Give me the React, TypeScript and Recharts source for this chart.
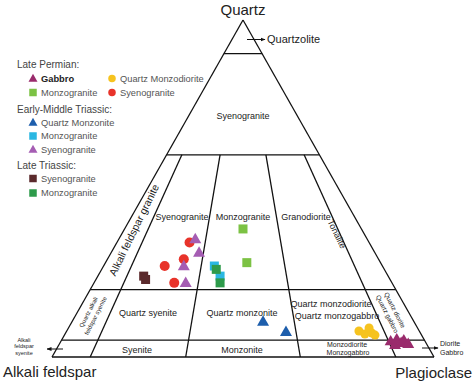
import React from 'react';
import { ScatterChart, Scatter, XAxis, YAxis, ReferenceLine } from 'recharts';

// ternary samples, each point is [Q, A, P] in %
const lpGabbro = [[4.7, 9, 86.3], [3.6, 8.4, 88], [5.3, 7.1, 87.6], [4.2, 6.5, 89.3], [5, 5.4, 89.6], [3.9, 4.8, 91.3]];
const lpQtzMonzodiorite = [[7.7, 15.8, 76.5], [6.8, 14.7, 78.5], [8.6, 12.7, 78.7], [7.1, 12.7, 80.2], [6.5, 12.2, 81.3]];
const lpMonzogranite = [[38, 31, 31], [28, 35, 37]];
const lpSyenogranite = [[34, 47, 19], [29, 51, 20], [27, 57, 16], [22, 57, 21]];
const emtQtzMonzonite = [[10.5, 39.5, 50], [7.5, 35, 57.5]];
const emtMonzogranite = [[27, 44, 29], [24, 44, 32]];
const emtSyenogranite = [[35, 45, 20], [31, 46, 23], [27, 52, 21], [22, 54, 24]];
const ltSyenogranite = [[24, 64, 12], [23, 64, 13]];
const ltMonzogranite = [[26, 44, 30], [22, 45, 33]];

// field boundaries
const qLevels = [90, 60, 20, 5];
const plagRatios = [10, 35, 65, 90]; // P/(A+P) %, from Q=60 down to Q=0

const W = 474;
const H = 383;
const FONT = '"Liberation Sans", Arial, sans-serif';

const project = ([q, a, p]: number[]) => {
  const s = q + a + p;
  return { x: ((p + q / 2) * 100) / s, y: (q * 100) / s };
};

type Kind = 'triangle' | 'circle' | 'square';

const Marker = ({ kind, cx, cy, fill, size }: { kind: Kind; cx: number; cy: number; fill: string; size: number }) => {
  if (kind === 'circle') return <circle cx={cx} cy={cy} r={size / 2} fill={fill} />;
  if (kind === 'square') return <rect x={cx - size / 2} y={cy - size / 2} width={size} height={size} fill={fill} />;
  const h = size * 0.87;
  return (
    <polygon
      points={`${cx},${cy - h * 0.6} ${cx - size / 2},${cy + h * 0.4} ${cx + size / 2},${cy + h * 0.4}`}
      fill={fill}
    />
  );
};

const series = [
  { name: 'LP Syenogranite', data: lpSyenogranite, color: '#e8332a', kind: 'circle' as Kind, size: 10 },
  { name: 'EMT Syenogranite', data: emtSyenogranite, color: '#a55db3', kind: 'triangle' as Kind, size: 12 },
  { name: 'LT Syenogranite', data: ltSyenogranite, color: '#5b2a2c', kind: 'square' as Kind, size: 9 },
  { name: 'LP Monzogranite', data: lpMonzogranite, color: '#7cc244', kind: 'square' as Kind, size: 9 },
  { name: 'EMT Monzogranite', data: emtMonzogranite, color: '#2ab7e2', kind: 'square' as Kind, size: 9 },
  { name: 'LT Monzogranite', data: ltMonzogranite, color: '#2e9b4b', kind: 'square' as Kind, size: 9 },
  { name: 'Quartz Monzonite', data: emtQtzMonzonite, color: '#1d5eac', kind: 'triangle' as Kind, size: 12 },
  { name: 'Quartz Monzodiorite', data: lpQtzMonzodiorite, color: '#f6c31f', kind: 'circle' as Kind, size: 9 },
  { name: 'Gabbro', data: lpGabbro, color: '#9a2b6c', kind: 'triangle' as Kind, size: 12 },
];

const segments: { x: number; y: number }[][] = [
  [project([100, 0, 0]), project([0, 100, 0])],
  [project([0, 100, 0]), project([0, 0, 100])],
  [project([0, 0, 100]), project([100, 0, 0])],
  ...qLevels.map((q) => [project([q, 100 - q, 0]), project([q, 0, 100 - q])]),
  ...plagRatios.map((r) => [
    project([60, 40 * (1 - r / 100), (40 * r) / 100]),
    project([0, 100 * (1 - r / 100), r]),
  ]),
];

const Rot = ({ x, y, angle, size, lines, gap }: { x: number; y: number; angle: number; size: number; lines: string[]; gap: number }) => (
  <g transform={`translate(${x},${y}) rotate(${angle})`}>
    {lines.map((t, i) => (
      <text key={t} x={0} y={(i - (lines.length - 1) / 2) * gap} dy="0.35em" textAnchor="middle" fontSize={size} fill="#222">
        {t}
      </text>
    ))}
  </g>
);

const Labels = () => {
  const mid = (x: number, y: number, t: string, size = 9) => (
    <text x={x} y={y} dy="0.35em" textAnchor="middle" fontSize={size} fill="#222">{t}</text>
  );
  return (
    <g fontFamily={FONT}>
      <defs>
        <marker id="ah" viewBox="0 0 10 10" refX="9" refY="5" markerWidth="5" markerHeight="5" orient="auto">
          <path d="M0,1 L10,5 L0,9 z" fill="#111" />
        </marker>
      </defs>
      <text x={243} y={10} dy="0.35em" textAnchor="middle" fontSize={15} fill="#222">Quartz</text>
      <line x1={247} y1={39.5} x2={265} y2={39.5} stroke="#111" strokeWidth={1} markerEnd="url(#ah)" />
      <text x={267} y={39.5} dy="0.35em" fontSize={11} fill="#222">Quartzolite</text>
      {mid(243, 116, 'Syenogranite')}
      {mid(182, 217, 'Syenogranite')}
      {mid(243, 217, 'Monzogranite')}
      {mid(306, 217, 'Granodiorite')}
      {mid(148, 313, 'Quartz syenite')}
      {mid(242, 313, 'Quartz monzonite')}
      {mid(331, 304, 'Quartz monzodiorite')}
      {mid(337, 316, 'Quartz monzogabbro')}
      {mid(137, 350, 'Syenite')}
      {mid(242, 350, 'Monzonite')}
      <text x={347} y={345} dy="0.35em" textAnchor="middle" fontSize={7} fill="#222">Monzodiorite</text>
      <text x={348} y={353} dy="0.35em" textAnchor="middle" fontSize={7} fill="#222">Monzogabbro</text>
      <Rot x={134} y={230} angle={-64} size={10.5} lines={['Alkali feldspar granite']} gap={0} />
      <Rot x={337} y={234} angle={64} size={9} lines={['Tonalite']} gap={0} />
      <Rot x={92} y={314} angle={-63} size={6} lines={['Quartz alkali', 'feldspar syenite']} gap={8} />
      <Rot x={391} y={312} angle={63} size={6.5} lines={['Quartz diorite', 'Quartz gabbro']} gap={8.5} />
      <text x={3} y={372} dy="0.35em" fontSize={15} fill="#222">Alkali feldspar</text>
      <text x={472} y={373} dy="0.35em" textAnchor="end" fontSize={15} fill="#222">Plagioclase</text>
      {['Alkali', 'feldspar', 'syenite'].map((t, i) => (
        <text key={t} x={24} y={340 + i * 6.5} dy="0.35em" textAnchor="middle" fontSize={5.5} fill="#222">{t}</text>
      ))}
      <line x1={63} y1={349} x2={47} y2={349} stroke="#111" strokeWidth={1} markerEnd="url(#ah)" />
      <line x1={422} y1={348} x2={438} y2={348} stroke="#111" strokeWidth={1} markerEnd="url(#ah)" />
      <text x={440} y={344} dy="0.35em" fontSize={7} fill="#222">Diorite</text>
      <text x={440} y={353} dy="0.35em" fontSize={7} fill="#222">Gabbro</text>
    </g>
  );
};

const legendRows: { x: number; y: number; kind: Kind; color: string; label: string; bold?: boolean }[] = [
  { x: 33, y: 78.5, kind: 'triangle', color: '#9a2b6c', label: 'Gabbro', bold: true },
  { x: 112, y: 78.5, kind: 'circle', color: '#f6c31f', label: 'Quartz Monzodiorite' },
  { x: 33, y: 92.5, kind: 'square', color: '#7cc244', label: 'Monzogranite' },
  { x: 112, y: 92.5, kind: 'circle', color: '#e8332a', label: 'Syenogranite' },
  { x: 33, y: 122.5, kind: 'triangle', color: '#1d5eac', label: 'Quartz Monzonite' },
  { x: 33, y: 136, kind: 'square', color: '#2ab7e2', label: 'Monzogranite' },
  { x: 33, y: 149.5, kind: 'triangle', color: '#a55db3', label: 'Syenogranite' },
  { x: 33, y: 178.5, kind: 'square', color: '#5b2a2c', label: 'Syenogranite' },
  { x: 33, y: 193, kind: 'square', color: '#2e9b4b', label: 'Monzogranite' },
];

const Legend = () => (
  <g fontFamily={FONT}>
    <text x={17} y={64} dy="0.35em" fontSize={10} fill="#444">Late Permian:</text>
    <text x={17} y={109} dy="0.35em" fontSize={10} fill="#444">Early-Middle Triassic:</text>
    <text x={17} y={165} dy="0.35em" fontSize={10} fill="#444">Late Triassic:</text>
    {legendRows.map((r, i) => (
      <g key={i}>
        <Marker kind={r.kind} cx={r.x} cy={r.y} fill={r.color} size={r.kind === 'triangle' ? 9 : 7.5} />
        <text x={r.x + 8} y={r.y} dy="0.35em" fontSize={9.3} fill={r.bold ? '#222' : '#555'} fontWeight={r.bold ? 'bold' : 'normal'}>
          {r.label}
        </text>
      </g>
    ))}
  </g>
);

export default function App() {
  return (
    <div style={{ position: 'absolute', left: 0, top: 0, width: W, height: H, background: '#fff' }}>
      <ScatterChart width={W} height={H} margin={{ top: 20, right: 40, bottom: 26, left: 52 }}>
        <XAxis type="number" dataKey="x" domain={[0, 100]} hide />
        <YAxis type="number" dataKey="y" domain={[0, 100]} hide />
        {segments.map((s, i) => (
          <ReferenceLine key={i} segment={s} stroke="#111" strokeWidth={1.3} ifOverflow="visible" />
        ))}
        {series.map((s) => (
          <Scatter
            key={s.name}
            name={s.name}
            data={s.data.map(project)}
            isAnimationActive={false}
            shape={(p: any) => <Marker kind={s.kind} cx={p.cx} cy={p.cy} fill={s.color} size={s.size} />}
          />
        ))}
      </ScatterChart>
      <svg width={W} height={H} style={{ position: 'absolute', left: 0, top: 0, pointerEvents: 'none' }}>
        <Labels />
        <Legend />
      </svg>
    </div>
  );
}
